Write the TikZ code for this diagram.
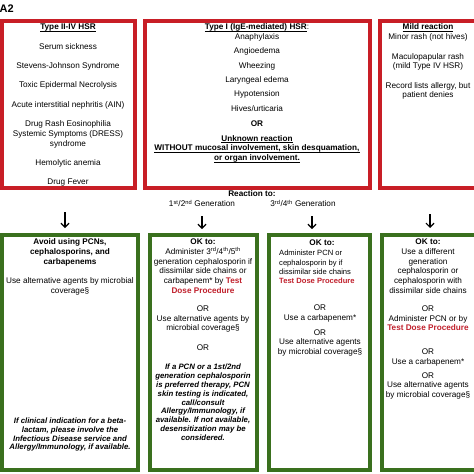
\documentclass[tikz,border=0pt]{standalone}
\usepackage{fontspec}
\setmainfont{Liberation Sans}
\usetikzlibrary{arrows.meta}

\definecolor{hsrred}{RGB}{200,30,38}
\definecolor{okgreen}{RGB}{58,112,30}
\definecolor{testred}{RGB}{192,32,44}

\newcommand{\bodyfont}{\fontsize{8.2}{9.7}\selectfont}
\newcommand{\smallbody}{\fontsize{7.6}{9.4}\selectfont}
\newcommand{\notefont}{\fontsize{7.8}{8.8}\selectfont\bfseries\itshape}
\newcommand{\testdose}[1]{\textcolor{testred}{\textbf{#1}}}
\newcommand{\ulhead}[1]{\underline{\raisebox{0pt}[\height][0pt]{\textbf{#1}}}}

\tikzset{
  redbox/.style={draw=hsrred, line width=4pt, inner sep=0pt},
  greenbox/.style={draw=okgreen, line width=4pt, inner sep=0pt},
  txt/.style={font=\bodyfont, align=center, inner sep=0pt, anchor=north},
  note/.style={font=\notefont, align=center, inner sep=0pt, anchor=north},
  downarrow/.style={-{Straight Barb[length=4pt,width=8pt]}, line width=1.2pt},
}

\begin{document}
\begin{tikzpicture}[x=1pt,y=-1pt]
            \useasboundingbox (0,0) rectangle (474,474);
            \node[anchor=west, inner sep=0pt, font=\fontsize{11}{13}\selectfont\bfseries] (panel) at (-0.5,9) {A2};
            % reaction boxes
            \node[redbox, minimum width=133.5pt, minimum height=167pt] (typeii) at (68.25,104.5) {};
            \node[redbox, minimum width=225pt, minimum height=167pt] (typei) at (257.5,104.5) {};
            \node[redbox, minimum width=98pt, minimum height=167pt] (mild) at (429,104.5) {};
            \node[txt] (typeiitxt) at (68,23.8) {\ulhead{Type II-IV HSR}\\[9.7pt]
                Serum sickness\\[9.7pt]
                Stevens-Johnson Syndrome\\[9.7pt]
                Toxic Epidermal Necrolysis\\[9.7pt]
                Acute interstitial nephritis (AIN)\\[9.7pt]
                Drug Rash Eosinophilia\\
                Systemic Symptoms (DRESS)\\
                syndrome\\[9.7pt]
                Hemolytic anemia\\[9.7pt]
                Drug Fever};
            \node[txt] (typeitxt) at (257,23.8) {\ulhead{Type I (IgE-mediated) HSR}:\\
                Anaphylaxis\\[4.6pt]
                Angioedema\\[4.6pt]
                Wheezing\\[4.6pt]
                Laryngeal edema\\[4.6pt]
                Hypotension\\[4.6pt]
                Hives/urticaria\\[5.3pt]
                \textbf{OR}\\[5.3pt]
                \ulhead{Unknown reaction}\\
                \ulhead{WITHOUT mucosal involvement, skin desquamation,}\\
                \ulhead{or organ involvement.}};
            \node[txt] (mildtxt) at (428,23.8) {\ulhead{Mild reaction}\\
                Minor rash (not hives)\\[9.7pt]
                Maculopapular rash\\
                (mild Type IV HSR)\\[9.7pt]
                Record lists allergy, but\\
                patient denies};
            % generation labels
            \node[inner sep=0pt, font=\bodyfont\bfseries] (reaction) at (252,194) {Reaction to:};
            \node[inner sep=0pt, font=\bodyfont] (gen12) at (202,203.5) {1\textsuperscript{st}/2\textsuperscript{nd} Generation};
            \node[inner sep=0pt, font=\bodyfont] (gen34) at (303,203.5) {3\textsuperscript{rd}/4\textsuperscript{th} Generation};
            % management boxes
            \node[greenbox, minimum width=136pt, minimum height=235pt] (avoid) at (69.5,352.5) {};
            \node[greenbox, minimum width=107pt, minimum height=235pt] (okfirst) at (203.5,352.5) {};
            \node[greenbox, minimum width=101pt, minimum height=235pt] (okthird) at (319.5,352.5) {};
            \node[greenbox, minimum width=96.5pt, minimum height=235pt] (okmild) at (429.75,352.5) {};
            \node[txt] (avoidtxt) at (70,238.8) {\textbf{Avoid using PCNs,}\\
                \textbf{cephalosporins, and}\\
                \textbf{carbapenems}\\[9.7pt]
                Use alternative agents by microbial\\
                coverage§};
            \node[note] (avoidnote) at (70,417.7) {If clinical indication for a beta-\\
                lactam, please involve the\\
                Infectious Disease service and\\
                Allergy/Immunology, if available.};
            \node[txt] (okfirsttxt) at (203,238.8) {\textbf{OK to:}\\
                Administer 3\textsuperscript{rd}/4\textsuperscript{th}/5\textsuperscript{th}\\
                generation cephalosporin if\\
                dissimilar side chains or\\
                carbapenem* by \testdose{Test}\\
                \testdose{Dose Procedure}\\[8.5pt]
                OR\\
                Use alternative agents by\\
                microbial coverage§\\[10.3pt]
                OR};
            \node[note] (okfirstnote) at (203,364) {If a PCN or a 1st/2nd\\
                generation cephalosporin\\
                is preferred therapy, PCN\\
                skin testing is indicated,\\
                call/consult\\
                Allergy/Immunology, if\\
                available. If not available,\\
                desensitization may be\\
                considered.};
            \node[inner sep=0pt, font=\bodyfont\bfseries] (okthirdhead) at (322,243) {OK to:};
            \node[anchor=north west, inner sep=0pt, align=left, font=\smallbody] (okthirdtxt) at (279,250) {Administer PCN or\\
                cephalosporin by if\\
                dissimilar side chains\\
                \testdose{Test Dose Procedure}};
            \node[txt] (okthirdalt) at (320,304.8) {OR\\
                Use a carbapenem*\\[5pt]
                OR\\
                Use alternative agents\\
                by microbial coverage§};
            \node[txt] (okmildtxt) at (428,238.8) {\textbf{OK to:}\\
                Use a different\\
                generation\\
                cephalosporin or\\
                cephalosporin with\\
                dissimilar side chains\\[8.5pt]
                OR\\
                Administer PCN or by\\
                \testdose{Test Dose Procedure}\\[14pt]
                OR\\
                Use a carbapenem*\\[4.3pt]
                OR\\
                Use alternative agents\\
                by microbial coverage§};
            % arrows
            \coordinate (a1) at (65,212);
            \coordinate (b1) at (65,228);
            \coordinate (a2) at (202,216);
            \coordinate (b2) at (202,229);
            \coordinate (a3) at (312,216);
            \coordinate (b3) at (312,229);
            \coordinate (a4) at (430,214);
            \coordinate (b4) at (430,228);
            \draw[downarrow] (a1) -- (b1);
            \draw[downarrow] (a2) -- (b2);
            \draw[downarrow] (a3) -- (b3);
            \draw[downarrow] (a4) -- (b4);
        \end{tikzpicture}
\end{document}
